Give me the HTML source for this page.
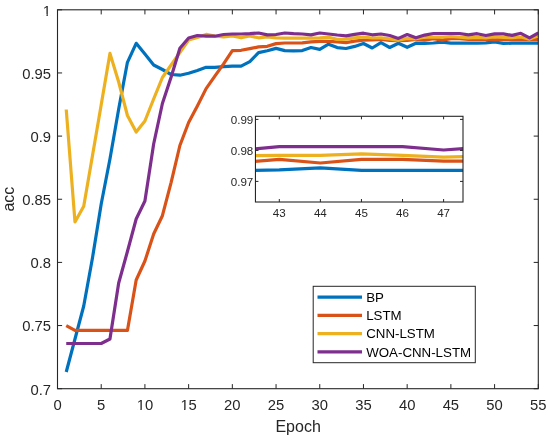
<!DOCTYPE html>
<html><head><meta charset="utf-8"><title>acc vs Epoch</title><style>html,body{margin:0;padding:0;background:#fff;width:550px;height:440px;overflow:hidden}svg{display:block}</style></head><body>
<svg width="550" height="440" viewBox="0 0 550 440">
<rect x="0" y="0" width="550" height="440" fill="#ffffff"/>
<defs><clipPath id="cm"><rect x="57.50" y="9.80" width="480.80" height="378.90"/></clipPath><clipPath id="ci"><rect x="255.45" y="116.30" width="207.55" height="85.70"/></clipPath></defs>
<g clip-path="url(#cm)" fill="none" stroke-width="3.20" stroke-linejoin="round" stroke-linecap="butt">
<polyline stroke="#0072BD" points="66.24,372.00 74.98,339.00 83.73,306.00 92.47,258.00 101.21,204.00 109.95,159.00 118.69,109.00 127.43,62.30 136.18,43.30 144.92,54.00 153.66,65.00 162.40,69.50 171.14,74.50 179.89,75.20 188.63,73.20 197.37,70.40 206.11,67.30 214.85,67.30 223.59,66.60 232.34,66.10 241.08,66.20 249.82,61.60 258.56,52.60 267.30,50.80 276.05,48.40 284.79,50.60 293.53,50.80 302.27,50.60 311.01,47.50 319.75,49.40 328.50,44.20 337.24,47.60 345.98,48.50 354.72,46.40 363.46,43.50 372.21,48.00 380.95,42.70 389.69,47.50 398.43,43.20 407.17,47.30 415.91,43.20 424.66,43.35 433.40,43.00 442.14,42.20 450.88,43.20 459.62,43.20 468.37,43.20 477.11,43.20 485.85,42.80 494.59,42.00 503.33,43.40 512.07,43.20 520.82,43.20 529.56,43.20 538.30,43.20"/>
<polyline stroke="#D95319" points="66.24,325.60 74.98,330.40 83.73,330.40 92.47,330.40 101.21,330.40 109.95,330.40 118.69,330.40 127.43,330.40 136.18,280.00 144.92,261.00 153.66,234.00 162.40,215.70 171.14,182.30 179.89,145.50 188.63,122.50 197.37,106.00 206.11,88.60 214.85,76.20 223.59,63.90 232.34,50.60 241.08,50.30 249.82,48.60 258.56,46.90 267.30,46.30 276.05,43.60 284.79,43.00 293.53,43.00 302.27,42.80 311.01,41.80 319.75,41.30 328.50,41.30 337.24,41.80 345.98,42.60 354.72,41.10 363.46,40.20 372.21,40.00 380.95,39.50 389.69,40.30 398.43,40.70 407.17,40.30 415.91,39.50 424.66,40.10 433.40,38.70 442.14,40.20 450.88,38.70 459.62,38.70 468.37,39.40 477.11,39.40 485.85,39.50 494.59,39.80 503.33,39.60 512.07,39.60 520.82,39.60 529.56,39.60 538.30,39.60"/>
<polyline stroke="#EDB120" points="66.24,109.50 74.98,222.00 83.73,206.20 92.47,155.70 101.21,104.80 109.95,53.40 118.69,82.00 127.43,115.50 136.18,132.00 144.92,121.00 153.66,99.00 162.40,77.50 171.14,65.00 179.89,52.50 188.63,40.00 197.37,37.40 206.11,34.40 214.85,36.00 223.59,37.00 232.34,36.00 241.08,37.80 249.82,35.90 258.56,37.80 267.30,36.80 276.05,37.80 284.79,38.10 293.53,38.10 302.27,38.10 311.01,38.10 319.75,37.80 328.50,37.30 337.24,39.40 345.98,39.20 354.72,37.80 363.46,37.00 372.21,38.00 380.95,37.80 389.69,38.80 398.43,40.30 407.17,38.40 415.91,38.80 424.66,37.20 433.40,37.10 442.14,37.10 450.88,36.50 459.62,37.10 468.37,37.80 477.11,37.30 485.85,38.00 494.59,36.60 503.33,37.50 512.07,37.70 520.82,37.00 529.56,39.10 538.30,35.70"/>
<polyline stroke="#7E2F8E" points="66.24,343.50 74.98,343.50 83.73,343.50 92.47,343.50 101.21,343.50 109.95,339.00 118.69,283.00 127.43,251.50 136.18,219.00 144.92,201.00 153.66,144.00 162.40,103.50 171.14,77.00 179.89,48.20 188.63,38.00 197.37,35.50 206.11,36.20 214.85,36.20 223.59,34.50 232.34,34.00 241.08,34.00 249.82,33.70 258.56,33.00 267.30,34.90 276.05,34.50 284.79,33.00 293.53,33.70 302.27,34.00 311.01,34.90 319.75,33.00 328.50,34.00 337.24,35.00 345.98,35.80 354.72,34.30 363.46,33.20 372.21,34.80 380.95,34.00 389.69,35.50 398.43,38.40 407.17,34.50 415.91,37.80 424.66,35.05 433.40,33.50 442.14,33.50 450.88,33.50 459.62,33.50 468.37,34.90 477.11,33.70 485.85,35.50 494.59,33.90 503.33,33.90 512.07,35.40 520.82,33.30 529.56,37.80 538.30,33.00"/>
</g>
<path d="M57.50,388.70V384.10M57.50,9.80V14.40M101.21,388.70V384.10M101.21,9.80V14.40M144.92,388.70V384.10M144.92,9.80V14.40M188.63,388.70V384.10M188.63,9.80V14.40M232.34,388.70V384.10M232.34,9.80V14.40M276.05,388.70V384.10M276.05,9.80V14.40M319.75,388.70V384.10M319.75,9.80V14.40M363.46,388.70V384.10M363.46,9.80V14.40M407.17,388.70V384.10M407.17,9.80V14.40M450.88,388.70V384.10M450.88,9.80V14.40M494.59,388.70V384.10M494.59,9.80V14.40M538.30,388.70V384.10M538.30,9.80V14.40M57.50,388.70H62.10M538.30,388.70H533.70M57.50,325.55H62.10M538.30,325.55H533.70M57.50,262.40H62.10M538.30,262.40H533.70M57.50,199.25H62.10M538.30,199.25H533.70M57.50,136.10H62.10M538.30,136.10H533.70M57.50,72.95H62.10M538.30,72.95H533.70M57.50,9.80H62.10M538.30,9.80H533.70" stroke="#262626" stroke-width="1" fill="none"/>
<rect x="57.50" y="9.80" width="480.80" height="378.90" fill="none" stroke="#262626" stroke-width="1.1"/>
<g font-family="Liberation Sans, Arial, sans-serif" font-size="14.8" fill="#262626">
<text x="57.50" y="410.2" text-anchor="middle">0</text>
<text x="101.21" y="410.2" text-anchor="middle">5</text>
<text x="144.92" y="410.2" text-anchor="middle">10</text>
<text x="188.63" y="410.2" text-anchor="middle">15</text>
<text x="232.34" y="410.2" text-anchor="middle">20</text>
<text x="276.05" y="410.2" text-anchor="middle">25</text>
<text x="319.75" y="410.2" text-anchor="middle">30</text>
<text x="363.46" y="410.2" text-anchor="middle">35</text>
<text x="407.17" y="410.2" text-anchor="middle">40</text>
<text x="450.88" y="410.2" text-anchor="middle">45</text>
<text x="494.59" y="410.2" text-anchor="middle">50</text>
<text x="538.30" y="410.2" text-anchor="middle">55</text>
<text x="51.0" y="394.50" text-anchor="end">0.7</text>
<text x="51.0" y="331.35" text-anchor="end">0.75</text>
<text x="51.0" y="268.20" text-anchor="end">0.8</text>
<text x="51.0" y="205.05" text-anchor="end">0.85</text>
<text x="51.0" y="141.90" text-anchor="end">0.9</text>
<text x="51.0" y="78.75" text-anchor="end">0.95</text>
<text x="51.0" y="15.60" text-anchor="end">1</text>
</g>
<rect x="43.30" y="14.34" width="3.19" height="1.91" fill="#fff"/>
<rect x="47.80" y="14.34" width="3.08" height="1.91" fill="#fff"/>
<rect x="137.21" y="408.94" width="3.19" height="1.91" fill="#fff"/>
<rect x="141.72" y="408.94" width="3.08" height="1.91" fill="#fff"/>
<rect x="180.92" y="408.94" width="3.19" height="1.91" fill="#fff"/>
<rect x="185.43" y="408.94" width="3.08" height="1.91" fill="#fff"/>
<text x="298.1" y="431.6" text-anchor="middle" font-family="Liberation Sans, Arial, sans-serif" font-size="16" fill="#262626">Epoch</text>
<text transform="translate(14.2,199.1) rotate(-90)" x="0" y="0" text-anchor="middle" font-family="Liberation Sans, Arial, sans-serif" font-size="16" fill="#262626">acc</text>
<rect x="313.2" y="286.3" width="162.10" height="76.40" fill="#ffffff" stroke="#262626" stroke-width="1"/>
<line x1="317.5" y1="297.20" x2="362" y2="297.20" stroke="#0072BD" stroke-width="3.2"/>
<text x="366.2" y="301.90" font-family="Liberation Sans, Arial, sans-serif" font-size="13.3" fill="#000000">BP</text>
<line x1="317.5" y1="315.40" x2="362" y2="315.40" stroke="#D95319" stroke-width="3.2"/>
<text x="366.2" y="320.10" font-family="Liberation Sans, Arial, sans-serif" font-size="13.3" fill="#000000">LSTM</text>
<line x1="317.5" y1="333.60" x2="362" y2="333.60" stroke="#EDB120" stroke-width="3.2"/>
<text x="366.2" y="338.30" font-family="Liberation Sans, Arial, sans-serif" font-size="13.3" fill="#000000">CNN-LSTM</text>
<line x1="317.5" y1="351.80" x2="362" y2="351.80" stroke="#7E2F8E" stroke-width="3.2"/>
<text x="366.2" y="356.50" font-family="Liberation Sans, Arial, sans-serif" font-size="13.3" fill="#000000">WOA-CNN-LSTM</text>
<rect x="255.45" y="116.3" width="207.55" height="85.70" fill="#ffffff"/>
<g clip-path="url(#ci)" fill="none" stroke-width="3.20" stroke-linejoin="round">
<polyline stroke="#0072BD" points="197.15,170.38 238.23,170.75 279.30,169.89 320.38,167.92 361.45,170.38 402.53,170.38 443.60,170.38 484.68,170.38 525.75,169.40"/>
<polyline stroke="#D95319" points="197.15,161.30 238.23,162.77 279.30,159.33 320.38,163.02 361.45,159.33 402.53,159.33 443.60,161.05 484.68,161.05 525.75,161.30"/>
<polyline stroke="#EDB120" points="197.15,159.58 238.23,155.65 279.30,155.41 320.38,155.41 361.45,153.93 402.53,155.41 443.60,157.13 484.68,155.90 525.75,157.62"/>
<polyline stroke="#7E2F8E" points="197.15,157.13 238.23,150.38 279.30,146.57 320.38,146.57 361.45,146.57 402.53,146.57 443.60,150.01 484.68,147.06 525.75,151.48"/>
</g>
<path d="M279.30,202.00V199.00M279.30,116.30V119.30M320.38,202.00V199.00M320.38,116.30V119.30M361.45,202.00V199.00M361.45,116.30V119.30M402.53,202.00V199.00M402.53,116.30V119.30M443.60,202.00V199.00M443.60,116.30V119.30M255.45,181.40H258.45M463.00,181.40H460.00M255.45,150.40H258.45M463.00,150.40H460.00M255.45,119.40H258.45M463.00,119.40H460.00" stroke="#262626" stroke-width="1" fill="none"/>
<rect x="255.45" y="116.3" width="207.55" height="85.70" fill="none" stroke="#262626" stroke-width="1.1"/>
<g font-family="Liberation Sans, Arial, sans-serif" font-size="11.6" fill="#262626">
<text x="279.30" y="216.6" text-anchor="middle">43</text>
<text x="320.38" y="216.6" text-anchor="middle">44</text>
<text x="361.45" y="216.6" text-anchor="middle">45</text>
<text x="402.53" y="216.6" text-anchor="middle">46</text>
<text x="443.60" y="216.6" text-anchor="middle">47</text>
<text x="253.3" y="185.70" text-anchor="end">0.97</text>
<text x="253.3" y="154.70" text-anchor="end">0.98</text>
<text x="253.3" y="123.70" text-anchor="end">0.99</text>
</g>
</svg>
</body></html>
